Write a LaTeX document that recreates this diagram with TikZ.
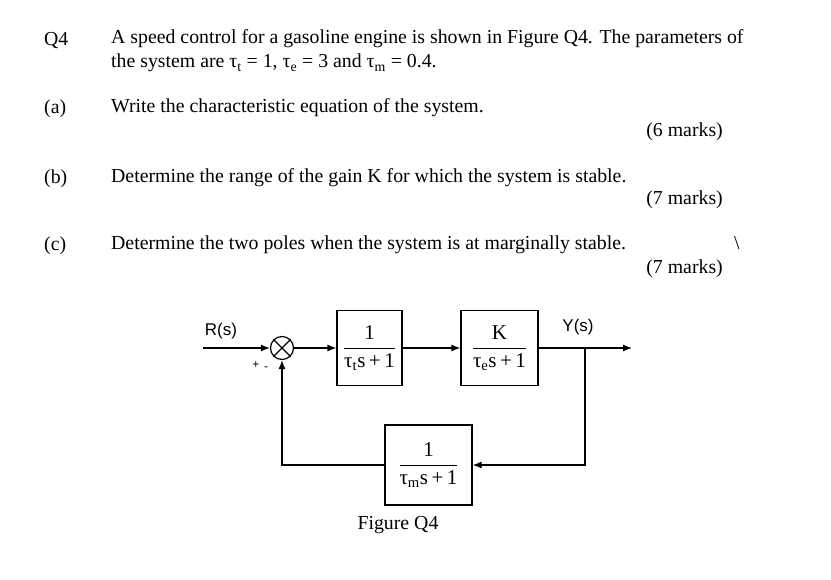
\documentclass[tikz,border=0pt]{standalone}
\usepackage{amsmath}
\usepackage{fontspec}
\setmainfont{Liberation Serif}
\newfontfamily\sansf{Liberation Sans}
\usetikzlibrary{arrows.meta}
\newcommand{\fr}[2]{$\dfrac{\text{#1}}{\text{#2}}$}
\begin{document}
\begin{tikzpicture}[x=1pt,y=-1pt,
  txt/.style={anchor=base west,inner sep=0,font=\fontsize{19.8}{22}\selectfont},
  blk/.style={draw,line width=1.2pt,inner sep=0,font=\fontsize{21}{22}\selectfont},
  lab/.style={inner sep=0,font=\sansf\fontsize{17}{18}\selectfont},
  sig/.style={line width=1.2pt,-{Latex[length=9pt,width=7pt]}},
  ln/.style={line width=1.2pt}]
\useasboundingbox (0,0) rectangle (831,580);
\node[txt] (q) at (44,46) {Q4};
\node[txt] (l1) at (111,44) {A speed control for a gasoline engine is shown in Figure Q4. The parameters of};
\node[txt] (l2) at (111,68) {the system are τ\textsubscript{t} = 1, τ\textsubscript{e} = 3 and τ\textsubscript{m} = 0.4.};
\node[txt] (pa) at (44,114) {(a)};
\node[txt] (ta) at (111,113) {Write the characteristic equation of the system.};
\node[txt,anchor=base east] (ma) at (723,137) {(6 marks)};
\node[txt] (pb) at (44,184) {(b)};
\node[txt] (tb) at (111,183) {Determine the range of the gain K for which the system is stable.};
\node[txt,anchor=base east] (mb) at (723,205) {(7 marks)};
\node[txt] (pc) at (44,251) {(c)};
\node[txt] (tc) at (111,250) {Determine the two poles when the system is at marginally stable.};
\node[txt,anchor=base east] (mc) at (723,274) {(7 marks)};
\node[txt] (bs) at (734,250) {\textbackslash};
% diagram
\node[draw,circle,line width=1.2pt,minimum size=23pt,inner sep=0] (sum) at (282,348) {};
\draw[line width=1.2pt] (sum.north west)--(sum.south east) (sum.north east)--(sum.south west);
\node[blk,minimum width=65pt,minimum height=75pt] (b1) at (369.5,348) {\fr{1}{τ\textsubscript{t}s\,+\,1}};
\node[blk,minimum width=77pt,minimum height=75pt] (b2) at (499.5,348) {\fr{K}{τ\textsubscript{e}s\,+\,1}};
\node[blk,minimum width=87pt,minimum height=80pt] (b3) at (428.5,465) {\fr{1}{τ\textsubscript{m}s\,+\,1}};
\coordinate (in) at (203,348);
\coordinate (out) at (632,348);
\coordinate (br) at (585,348);
\draw[sig] (in)--(sum);
\draw[sig] (sum)--(b1);
\draw[sig] (b1)--(b2);
\draw[sig] (b2)--(out);
\draw[sig] (br)|-(b3);
\draw[sig] (b3)-|(sum);
\node[lab] (r) at (221,331) {R(s)};
\node[lab] (y) at (578,327) {Y(s)};
\node[lab,font=\sansf\fontsize{12}{12}\selectfont] (p) at (256,365) {+};
\node[lab,font=\sansf\fontsize{12}{12}\selectfont] (m) at (266,369) {-};
\node[txt,anchor=center] (fig) at (398,525) {Figure Q4};
\end{tikzpicture}
\end{document}
